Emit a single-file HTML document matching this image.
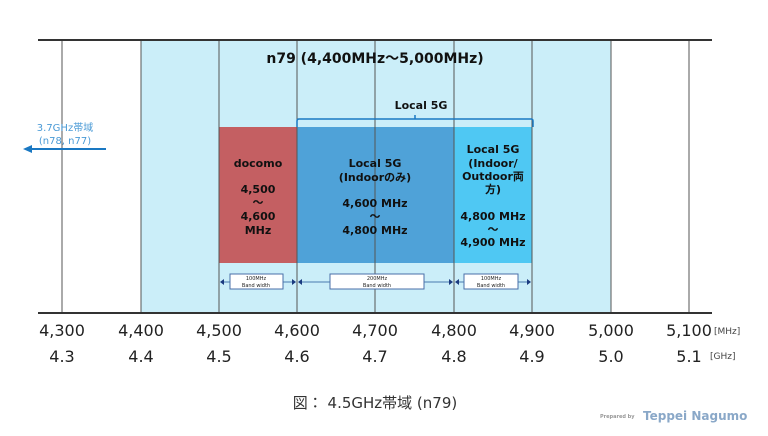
<!DOCTYPE html>
<html><head><meta charset="utf-8"><style>
body{margin:0;width:768px;height:432px;background:#fff;overflow:hidden;font-family:"DejaVu Sans","Liberation Sans","Noto Sans CJK JP",sans-serif}
</style></head><body>
<svg width="768" height="432" viewBox="0 0 768 432" xmlns="http://www.w3.org/2000/svg" font-family="DejaVu Sans, Liberation Sans, Noto Sans CJK JP, sans-serif">
<rect x="141" y="41" width="470" height="272" fill="#cbeef9"/>
<rect x="219" y="127" width="78" height="136" fill="#c45f62"/>
<rect x="297" y="127" width="157" height="136" fill="#4fa2d8"/>
<rect x="454" y="127" width="78" height="136" fill="#4fc8f3"/>
<line x1="454" y1="127" x2="454" y2="263" stroke="#888" stroke-dasharray="3,2"/>
<g stroke="#555" stroke-width="1">
<line x1="62" y1="40" x2="62" y2="313"/><line x1="141" y1="40" x2="141" y2="313"/>
<line x1="219" y1="40" x2="219" y2="313"/><line x1="297" y1="40" x2="297" y2="313"/>
<line x1="375" y1="40" x2="375" y2="313"/><line x1="454" y1="40" x2="454" y2="313"/>
<line x1="532" y1="40" x2="532" y2="313"/><line x1="611" y1="40" x2="611" y2="313"/>
<line x1="689" y1="40" x2="689" y2="313"/>
</g>
<line x1="38" y1="40" x2="712" y2="40" stroke="#333" stroke-width="2"/>
<line x1="38" y1="313" x2="712" y2="313" stroke="#333" stroke-width="2"/>
<text x="375" y="63" font-size="14" font-weight="bold" text-anchor="middle" fill="#111">n79 (4,400MHz～5,000MHz)</text>
<path d="M297 127 V121 Q297 119 299 119 H531 Q533 119 533 121 V127 M415 119 V115" fill="none" stroke="#1a78c2" stroke-width="1.5"/>
<text x="421" y="109" font-size="11" font-weight="bold" text-anchor="middle" fill="#111">Local 5G</text>
<text x="65" y="131" font-size="10" text-anchor="middle" fill="#4a9ad6">3.7GHz帯域</text>
<text x="65" y="144" font-size="10" text-anchor="middle" fill="#4a9ad6">(n78, n77)</text>
<line x1="30" y1="149" x2="106" y2="149" stroke="#1a78c2" stroke-width="2"/>
<path d="M23 149 L32 145 L32 153 Z" fill="#1a78c2"/>
<g font-size="11" font-weight="bold" text-anchor="middle" fill="#111">
<text x="258" y="167">docomo</text><text x="258" y="193">4,500</text><text x="258" y="206">～</text><text x="258" y="220">4,600</text><text x="258" y="234">MHz</text>
<text x="375" y="167">Local 5G</text><text x="375" y="181">(Indoorのみ)</text><text x="375" y="207">4,600 MHz</text><text x="375" y="220">～</text><text x="375" y="234">4,800 MHz</text>
<text x="493" y="153">Local 5G</text><text x="493" y="167">(Indoor/</text><text x="493" y="180">Outdoor両</text><text x="493" y="193">方)</text><text x="493" y="220">4,800 MHz</text><text x="493" y="233">～</text><text x="493" y="246">4,900 MHz</text>
</g>
<g stroke="#4a7ab0" stroke-width="1"><line x1="221" y1="282" x2="295" y2="282"/><line x1="299" y1="282" x2="452" y2="282"/><line x1="456" y1="282" x2="530" y2="282"/></g>
<g fill="#1a3a80">
<path d="M220 282l4-3v6z"/><path d="M296 282l-4-3v6z"/><path d="M298 282l4-3v6z"/><path d="M453 282l-4-3v6z"/><path d="M455 282l4-3v6z"/><path d="M531 282l-4-3v6z"/>
</g>
<g fill="#fff" stroke="#4a6fa8"><rect x="230" y="274" width="53" height="15"/><rect x="330" y="274" width="94" height="15"/><rect x="464" y="274" width="54" height="15"/></g>
<g font-size="5" text-anchor="middle" fill="#222">
<text x="256" y="280">100MHz</text><text x="256" y="287">Band width</text>
<text x="377" y="280">200MHz</text><text x="377" y="287">Band width</text>
<text x="491" y="280">100MHz</text><text x="491" y="287">Band width</text>
</g>
<g font-size="16" text-anchor="middle" fill="#222">
<text x="62" y="336">4,300</text><text x="141" y="336">4,400</text><text x="219" y="336">4,500</text><text x="297" y="336">4,600</text><text x="375" y="336">4,700</text><text x="454" y="336">4,800</text><text x="532" y="336">4,900</text><text x="611" y="336">5,000</text><text x="689" y="336">5,100</text>
<text x="62" y="362">4.3</text><text x="141" y="362">4.4</text><text x="219" y="362">4.5</text><text x="297" y="362">4.6</text><text x="375" y="362">4.7</text><text x="454" y="362">4.8</text><text x="532" y="362">4.9</text><text x="611" y="362">5.0</text><text x="689" y="362">5.1</text>
</g>
<text x="714" y="334" font-size="9" fill="#444">[MHz]</text>
<text x="710" y="359" font-size="9" fill="#444">[GHz]</text>
<text x="375" y="408" font-size="15" text-anchor="middle" fill="#333">図： 4.5GHz帯域 (n79)</text>
<text x="600" y="418" font-size="5" fill="#999" font-weight="bold">Prepared by</text>
<text x="643" y="420" font-size="12" fill="#8aa8c8" font-weight="bold">Teppei Nagumo</text>
</svg>
</body></html>
